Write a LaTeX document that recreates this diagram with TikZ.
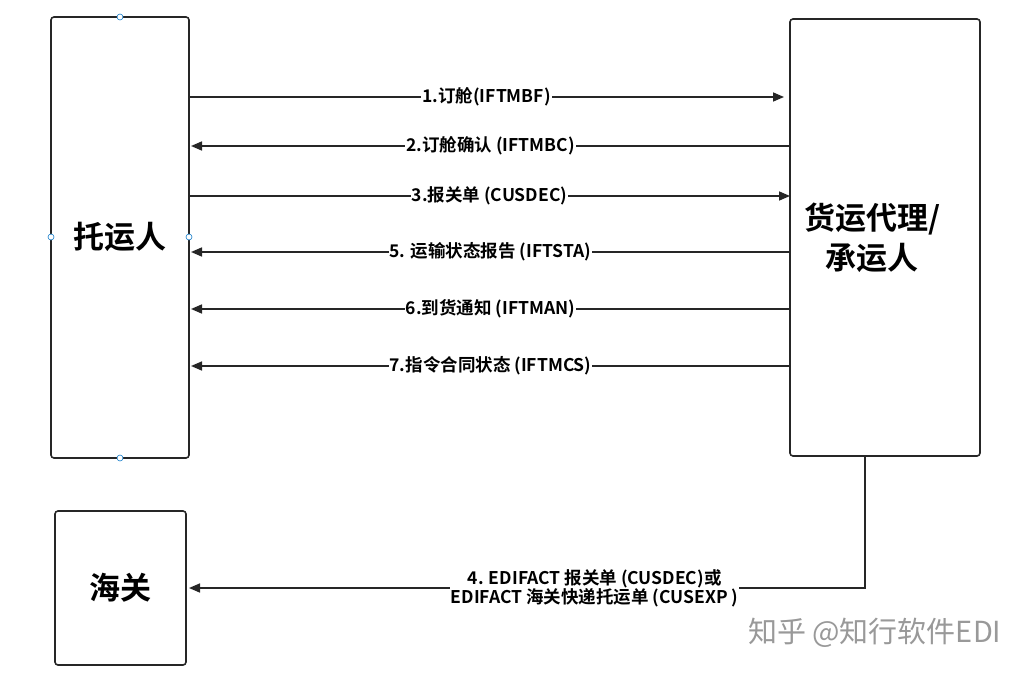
\documentclass[tikz,border=0pt]{standalone}
\usepackage{fontspec}
\setmainfont{Noto Sans CJK SC}[BoldFont={Noto Sans CJK SC Bold}]
\usetikzlibrary{arrows.meta}
\begin{document}
\begin{tikzpicture}[x=1pt,y=-1pt,
  box/.style={draw=black!85,line width=1.6pt,rounded corners=3pt},
  msg/.style={line width=1.6pt,-{Triangle[length=11pt,width=9pt]},draw=black!85},
  lbl/.style={fill=white,inner sep=1pt,font=\bfseries\fontsize{17.5}{19}\selectfont},
  title/.style={font=\bfseries\fontsize{31}{40}\selectfont,align=center},
  handle/.style={circle,draw=cyan!60!blue,fill=white,inner sep=0pt,minimum size=6pt,line width=0.6pt}]
\useasboundingbox (0,0) rectangle (1031,677);
\draw[box] (51,17) rectangle (189,458);
\draw[box] (790,19) rectangle (980,456);
\draw[box] (55,511) rectangle (186,665);
\node[title] (s) at (120,237) {托运人};
\node[title] (f) at (872,238) {货运代理/\\承运人};
\node[title] (c) at (120,588) {海关};
\coordinate (L1) at (189,97); \coordinate (R1) at (784,97);
\coordinate (L2) at (191,146); \coordinate (R2) at (790,146);
\coordinate (L3) at (189,196); \coordinate (R3) at (790,196);
\coordinate (L5) at (191,252); \coordinate (R5) at (790,252);
\coordinate (L6) at (191,309); \coordinate (R6) at (790,309);
\coordinate (L7) at (191,366); \coordinate (R7) at (790,366);
\coordinate (B0) at (865,456); \coordinate (B1) at (865,588); \coordinate (C1) at (189,588);
\draw[msg] (L1) -- node[lbl]{1.订舱(IFTMBF)} (R1);
\draw[msg] (R2) -- node[lbl]{2.订舱确认 (IFTMBC)} (L2);
\draw[msg] (L3) -- node[lbl]{3.报关单 (CUSDEC)} (R3);
\draw[msg] (R5) -- node[lbl]{5. 运输状态报告 (IFTSTA)} (L5);
\draw[msg] (R6) -- node[lbl]{6.到货通知 (IFTMAN)} (L6);
\draw[msg] (R7) -- node[lbl]{7.指令合同状态 (IFTMCS)} (L7);
\draw[msg] (B0) -- (B1) -- node[lbl,align=center,pos=0.40]{4. EDIFACT 报关单 (CUSDEC)或\\EDIFACT 海关快递托运单 (CUSEXP )} (C1);
\node[handle] at (120,17) {};
\node[handle] at (120,458) {};
\node[handle] at (51,237) {};
\node[handle] at (189,237) {};
\node[text=black!40,font=\fontsize{29}{32}\selectfont,anchor=east] (w) at (1005,633) {知乎 @知行软件EDI};
\end{tikzpicture}
\end{document}
